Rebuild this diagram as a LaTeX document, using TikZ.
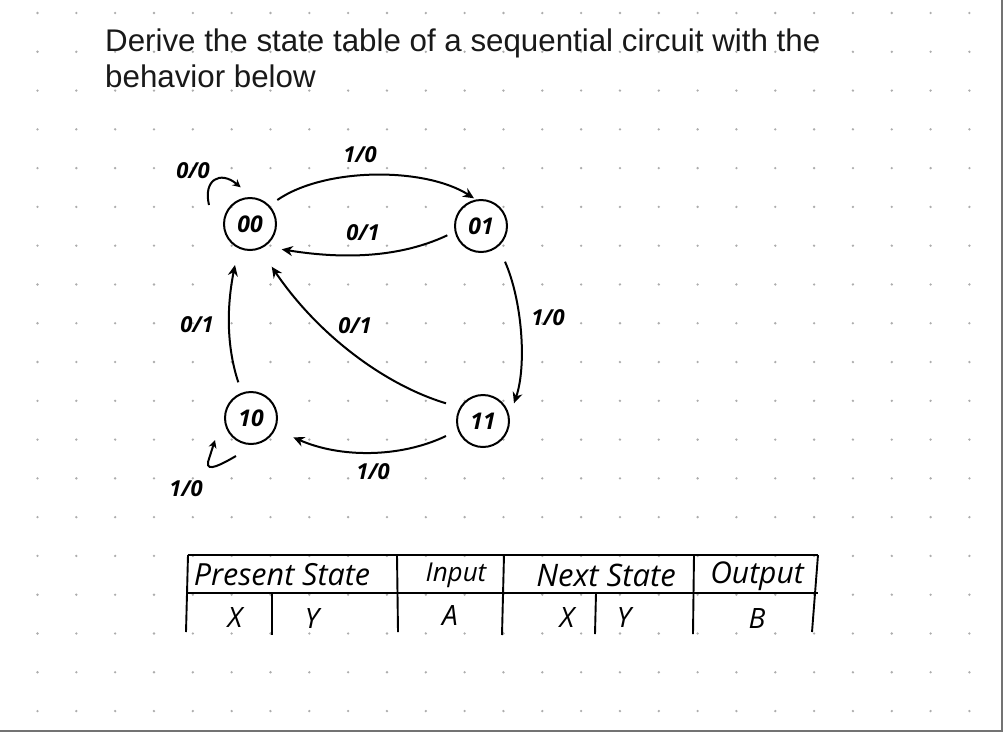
\documentclass[tikz,border=0pt]{standalone}
\usepackage{fontspec}
\setmainfont{Liberation Sans}
\newfontfamily\hand{Open Sans}
\usetikzlibrary{arrows.meta,calc}
\tikzset{
  x=1pt,y=-1pt,
  griddot/.style={fill=black!32,draw=none},
  state/.style={circle,draw=black,line width=2pt,minimum size=52pt,inner sep=0pt,font=\hand\itshape\bfseries\fontsize{23}{26}\selectfont},
  edge/.style={draw=black,line width=2pt,-{Stealth[length=11pt,width=10pt]}},
  lab/.style={inner sep=0pt,font=\hand\itshape\bfseries\fontsize{22}{24}\selectfont},
  rule/.style={draw=black,line width=1.9pt},
  head/.style={inner sep=0pt,font=\hand\itshape\fontsize{#1}{34}\selectfont},
  head/.default=30,
  title/.style={inner sep=0pt,anchor=base west,font=\fontsize{31.3}{36}\selectfont,text=black!90},
}
\begin{document}
\begin{tikzpicture}
\useasboundingbox (0,0) rectangle (1004,732);
\fill[white] (0,0) rectangle (1004,732);
\foreach \i in {-1,...,25} \foreach \j in {0,...,18}
  \fill[griddot] ({37.5+38.83*\i},{13+38.78*\j}) circle (1.3);
\draw[draw=black!55,line width=1.6pt] (1002,-2) -- (1002,731) -- (-2,731);
\node[title] (t1) at (105,51) {Derive the state table of a sequential circuit with the};
\node[title] (t2) at (105,87) {behavior below};
\node[state] (n00) at (250,224) {00};
\node[state] (n01) at (481,226) {01};
\node[state] (n10) at (251,418) {10};
\node[state] (n11) at (483,421) {11};
\draw[edge] ([shift={(27.3,-24)}]n00.center) .. controls (325,167) and (425,167) .. ([shift={(-7,-27.7)}]n01.center);
\draw[edge] ([shift={(-33.7,9.3)}]n01.center) .. controls (395,260) and (335,258) .. ([shift={(31.7,25.3)}]n00.center);
\draw[edge] ([shift={(24,35.7)}]n01.center) .. controls (522,300) and (527,365) .. ([shift={(31,-17.7)}]n11.center);
\draw[edge] ([shift={(-37,-17.7)}]n11.center) .. controls (385,385) and (318,335) .. ([shift={(21.7,42.7)}]n00.center);
\draw[edge] ([shift={(-37,15)}]n11.center) .. controls (400,458) and (340,458) .. ([shift={(42.3,19.3)}]n10.center);
\draw[edge] ([shift={(-12.7,-35.7)}]n10.center) .. controls (226,345) and (227,305) .. ([shift={(-15,41)}]n00.center);
\draw[edge,-{Stealth[length=8pt,width=8pt]}] ([shift={(-41,-19)}]n00.center) .. controls (203,180) and (220,170) .. ([shift={(-9.3,-36.7)}]n00.center);
\draw[edge,-{Stealth[length=8pt,width=8pt]}] ([shift={(-15,38)}]n10.center) .. controls (222,464) and (206,473) .. (208,462) -- ([shift={(-36,22)}]n10.center);
\node[lab] (l1) at (360,155) {1/0};
\node[lab] (l2) at (193,171) {0/0};
\node[lab] (l3) at (363,233) {0/1};
\node[lab] (l4) at (355,326) {0/1};
\node[lab] (l5) at (197,325) {0/1};
\node[lab] (l6) at (548,318) {1/0};
\node[lab] (l7) at (373,472) {1/0};
\node[lab] (l8) at (186,489) {1/0};
\coordinate (tl) at (188,555);
\coordinate (tr) at (818,555);
\coordinate (ml) at (188,593);
\coordinate (mr) at (818,593);
\draw[rule] (tl) -- (tr);
\draw[rule] (ml) -- (mr);
\draw[rule] (tl) -- (186,632);
\draw[rule] (tr) -- (812,632);
\draw[rule] (397,555) -- (398,632);
\draw[rule] (504,555) -- (502,635);
\draw[rule] (694,555) -- (693,634);
\draw[rule] (272,593) -- (272,635);
\draw[rule] (596,593) -- (595,634);
\node[head=30.5] (h1) at (282,575) {Present State};
\node[head=26] (h2) at (456,575) {Input};
\node[head=31] (h3) at (606,575) {Next State};
\node[head=30] (h4) at (757,576) {Output};
\node[head=28] (c1) at (235,617) {X};
\node[head=28] (c2) at (312,618) {Y};
\node[head=28] (c3) at (450,615) {A};
\node[head=28] (c4) at (567,617) {X};
\node[head=28] (c5) at (624,617) {Y};
\node[head=28] (c6) at (757,618) {B};
\end{tikzpicture}
\end{document}
